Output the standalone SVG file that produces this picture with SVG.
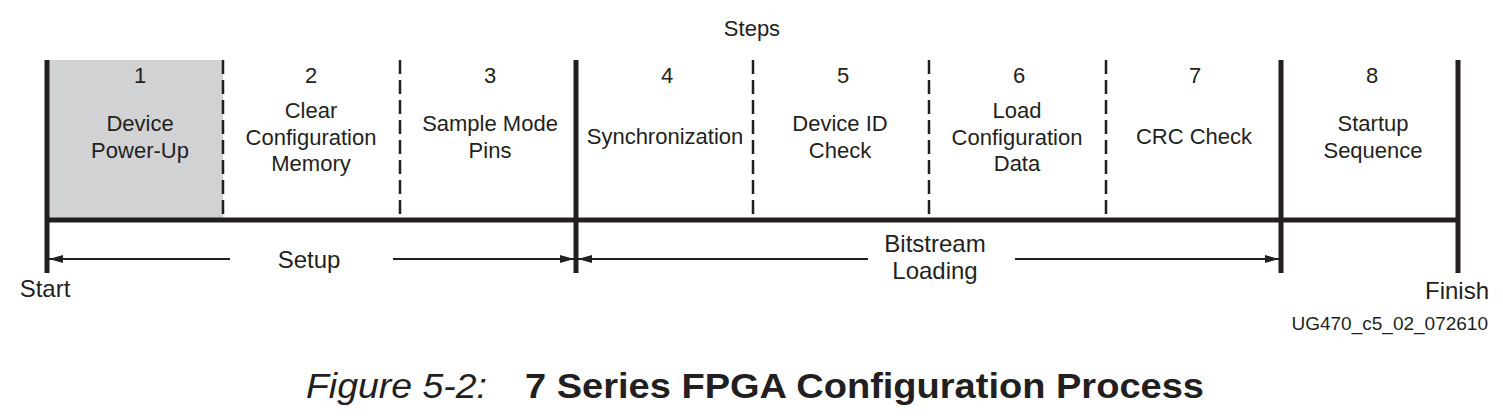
<svg xmlns="http://www.w3.org/2000/svg" width="1503" height="416" viewBox="0 0 1503 416">
<style>
text{font-family:"Liberation Sans",Arial,sans-serif;fill:#231f20;font-size:22px;text-anchor:middle}
.big{font-size:24px}
.thick{stroke:#231f20;stroke-width:5;fill:none}
.dash{stroke:#231f20;stroke-width:2.5;stroke-dasharray:14,6;fill:none}
.arr{stroke:#231f20;stroke-width:2;fill:none}
</style>
<defs>
<marker id="ah" viewBox="0 0 14 8" refX="14" refY="4" markerWidth="14" markerHeight="8" markerUnits="userSpaceOnUse" orient="auto-start-reverse"><path d="M0,0L14,4L0,8z" fill="#231f20"/></marker>
</defs>
<rect x="47" y="60" width="176" height="159" fill="#d1d2d4"/>
<g id="connectors">
<line class="thick" x1="47" y1="220" x2="1458" y2="220"/>
<line class="thick" x1="47" y1="60" x2="47" y2="273"/>
<line class="thick" x1="576" y1="60" x2="576" y2="273"/>
<line class="thick" x1="1281" y1="60" x2="1281" y2="273"/>
<line class="thick" x1="1458" y1="60" x2="1458" y2="273"/>
<line class="dash" x1="223" y1="60" x2="223" y2="218"/>
<line class="dash" x1="400" y1="60" x2="400" y2="218"/>
<line class="dash" x1="753" y1="60" x2="753" y2="218"/>
<line class="dash" x1="929" y1="60" x2="929" y2="218"/>
<line class="dash" x1="1106" y1="60" x2="1106" y2="218"/>
<line class="arr" x1="230" y1="259" x2="49" y2="259" marker-end="url(#ah)"/>
<line class="arr" x1="393" y1="259" x2="574" y2="259" marker-end="url(#ah)"/>
<line class="arr" x1="868" y1="259" x2="578" y2="259" marker-end="url(#ah)"/>
<line class="arr" x1="1015" y1="259" x2="1279" y2="259" marker-end="url(#ah)"/>
</g>
<text x="752" y="36">Steps</text>
<g id="s1"><text x="140" y="83">1</text><text x="140" y="131">Device</text><text x="140" y="158">Power-Up</text></g>
<g id="s2"><text x="311" y="83">2</text><text x="311" y="118">Clear</text><text x="311" y="145">Configuration</text><text x="311" y="171">Memory</text></g>
<g id="s3"><text x="490" y="83">3</text><text x="490" y="131">Sample Mode</text><text x="490" y="158">Pins</text></g>
<g id="s4"><text x="667" y="83">4</text><text x="665" y="144">Synchronization</text></g>
<g id="s5"><text x="843" y="83">5</text><text x="840" y="131">Device ID</text><text x="840" y="158">Check</text></g>
<g id="s6"><text x="1019" y="83">6</text><text x="1017" y="118">Load</text><text x="1017" y="145">Configuration</text><text x="1017" y="171">Data</text></g>
<g id="s7"><text x="1195" y="83">7</text><text x="1194" y="144">CRC Check</text></g>
<g id="s8"><text x="1372" y="83">8</text><text x="1373" y="131">Startup</text><text x="1373" y="158">Sequence</text></g>
<text class="big" x="309" y="268">Setup</text>
<text class="big" x="935" y="252">Bitstream</text>
<text class="big" x="935" y="279">Loading</text>
<text class="big" x="45" y="297">Start</text>
<text class="big" x="1457" y="299">Finish</text>
<text x="1488" y="330" style="font-size:19px;text-anchor:end">UG470_c5_02_072610</text>
<text x="306" y="398" style="font-size:35px;font-style:italic;text-anchor:start" textLength="181" lengthAdjust="spacingAndGlyphs">Figure 5-2:</text>
<text x="525" y="398" style="font-size:35px;font-weight:bold;text-anchor:start" textLength="679" lengthAdjust="spacingAndGlyphs">7 Series FPGA Configuration Process</text>
</svg>
